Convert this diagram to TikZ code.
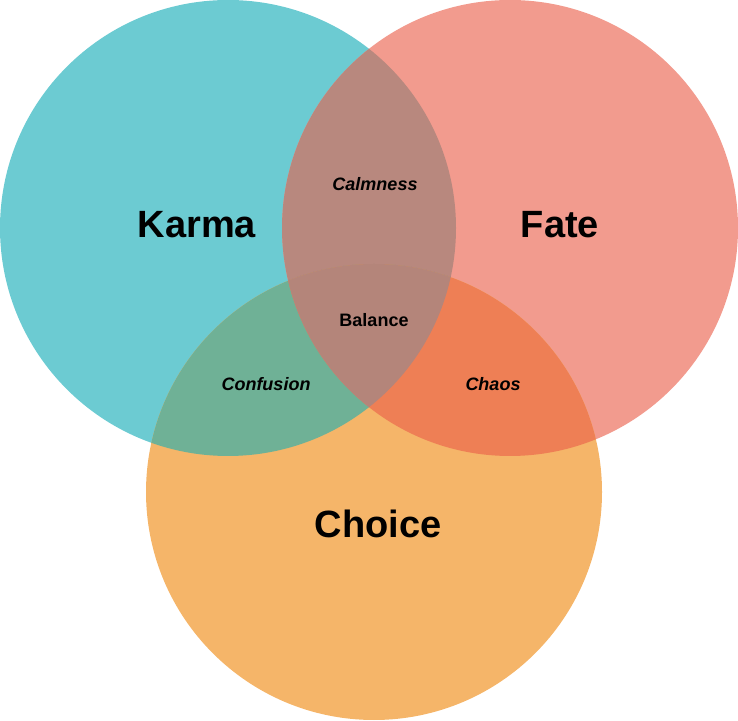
\documentclass[tikz,border=0pt]{standalone}
\usepackage{fontspec}
\setmainfont{Liberation Sans}
\begin{document}
\begin{tikzpicture}[x=1pt,y=1pt,
  big/.style={font=\fontsize{38}{40}\selectfont\bfseries},
  small/.style={font=\fontsize{18}{20}\selectfont\bfseries\itshape},
  smallup/.style={font=\fontsize{18}{20}\selectfont\bfseries}]
\definecolor{kc}{HTML}{6CCBD2}
\definecolor{fc}{HTML}{F29B8E}
\definecolor{cc}{HTML}{F5B569}
\definecolor{kf}{HTML}{B8887E}
\definecolor{kcc}{HTML}{6FB196}
\definecolor{fcc}{HTML}{EE7F55}
\definecolor{all}{HTML}{B4857A}
\useasboundingbox (0,0) rectangle (738,720);
\def\K{(228,492) circle (228)}
\def\F{(510,492) circle (228)}
\def\C{(374,228) circle (228)}
\fill[kc] \K;
\fill[fc] \F;
\fill[cc] \C;
\begin{scope}\clip \K; \fill[kf] \F; \end{scope}
\begin{scope}\clip \K; \fill[kcc] \C; \end{scope}
\begin{scope}\clip \F; \fill[fcc] \C; \end{scope}
\begin{scope}\clip \K; \clip \F; \fill[all] \C; \end{scope}
\node[big] (karma) at (197,495) {Karma};
\node[big] (fate) at (560,495) {Fate};
\node[big] (choice) at (378,196) {Choice};
\node[small] (calm) at (375,536) {Calmness};
\node[smallup] (bal) at (374,400) {Balance};
\node[small] (conf) at (266,336) {Confusion};
\node[small] (chaos) at (493,336) {Chaos};
\end{tikzpicture}
\end{document}
